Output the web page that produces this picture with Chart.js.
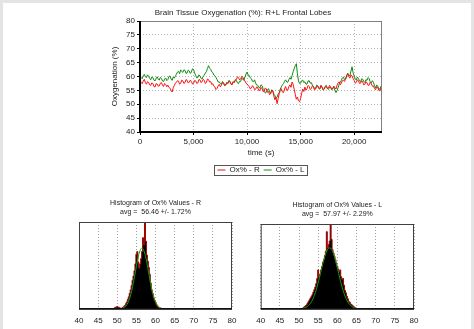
<!DOCTYPE html>
<html>
<head>
<meta charset="utf-8">
<title>Brain Tissue Oxygenation</title>
<script src="https://cdn.jsdelivr.net/npm/chart.js@4.4.0/dist/chart.umd.min.js"></script>
<style>
  html, body { margin: 0; padding: 0; background: #fff; }
  #page {
    position: relative; width: 474px; height: 329px; background: #fff;
    box-shadow: inset 3px 3px 0 #e4e4e4, inset -3px 0 0 #e4e4e4;
  }
  canvas { position: absolute; }
</style>
</head>
<body>
<div id="page">
  <canvas id="trend" width="474" height="184" style="left:0;top:0"></canvas>
  <canvas id="histR" width="190" height="139" style="left:60px;top:190px"></canvas>
  <canvas id="histL" width="190" height="137" style="left:240px;top:192px"></canvas>
</div>
<script>
// Ox% readings, one sample every 100 s
const sampleStep = 100;
const oxR = [
  58.6, 57.9, 57.4, 58.3, 59.0, 57.8, 57.2, 58.1, 57.9, 57.0,
  56.8, 57.7, 57.5, 56.4, 56.2, 57.4, 57.3, 56.5, 56.6, 57.6,
  57.8, 56.9, 56.4, 57.5, 57.1, 56.3, 56.9, 56.1, 55.8, 55.0,
  54.4, 55.9, 56.7, 57.6, 57.9, 58.5, 58.3, 57.2, 57.6, 58.7,
  58.4, 57.5, 57.8, 58.9, 58.6, 57.7, 57.9, 58.7, 58.2, 57.3,
  57.5, 58.6, 58.4, 57.5, 57.7, 58.9, 58.8, 57.8, 58.1, 59.0,
  58.6, 57.5, 57.8, 59.1, 58.9, 58.0, 58.2, 57.1, 57.4, 56.5,
  56.2, 55.3, 55.7, 56.6, 57.2, 56.3, 56.8, 57.9, 57.6, 56.7,
  56.9, 57.8, 57.4, 58.3, 58.1, 57.2, 57.0, 58.2, 57.8, 58.6,
  58.9, 59.9, 59.6, 58.8, 59.2, 60.1, 59.8, 58.9, 58.4, 57.6,
  57.3, 56.7, 56.4, 55.5, 55.8, 56.7, 56.2, 55.3, 55.4, 56.3,
  55.9, 54.9, 55.1, 56.0, 55.7, 54.5, 54.8, 55.9, 55.5, 54.3,
  54.6, 53.4, 53.9, 55.0, 54.8, 53.0, 51.6, 52.4, 50.2, 52.0,
  53.8, 54.9, 55.6, 54.4, 54.2, 55.5, 56.4, 55.0, 55.1, 56.3,
  57.0, 56.1, 58.0, 57.2, 55.4, 53.6, 51.8, 52.6, 51.3, 50.9,
  52.1, 54.0, 55.5, 54.6, 56.2, 55.1, 55.6, 56.8, 56.4, 55.3,
  55.7, 56.7, 56.3, 55.2, 55.5, 56.4, 56.6, 55.7, 55.8, 56.9,
  56.2, 55.1, 55.4, 56.3, 56.5, 55.6, 55.9, 56.8, 56.3, 55.4,
  55.6, 56.5, 56.0, 55.5, 56.8, 57.7, 58.1, 57.0, 57.6, 58.5,
  58.7, 58.2, 59.0, 60.2, 61.0, 60.0, 59.4, 60.6, 60.2, 59.3,
  58.6, 57.6, 57.9, 58.8, 58.4, 57.5, 57.6, 58.5, 58.0, 57.0,
  57.2, 58.1, 57.8, 56.8, 56.9, 57.9, 57.4, 56.5, 56.6, 55.7,
  55.2, 56.3, 56.0, 55.0, 54.8, 55.9, 55.6
];
const oxL = [
  60.5, 59.6, 59.2, 60.3, 60.8, 59.9, 59.6, 60.6, 60.1, 59.3,
  58.8, 59.8, 59.6, 58.7, 58.4, 59.2, 59.9, 59.0, 58.7, 59.7,
  59.3, 58.4, 58.2, 59.1, 59.5, 58.5, 58.9, 60.0, 60.2, 59.1,
  58.6, 59.8, 59.4, 60.1, 60.8, 61.6, 61.9, 61.0, 62.4, 61.8,
  61.5, 62.4, 62.2, 61.1, 61.3, 62.3, 62.0, 61.1, 61.6, 62.8,
  62.5, 61.3, 60.4, 59.5, 59.6, 60.6, 60.2, 59.3, 59.1, 60.0,
  60.5, 61.2, 61.8, 62.9, 63.9, 63.0, 62.6, 61.7, 61.4, 60.5,
  60.2, 59.6, 58.9, 58.0, 58.1, 57.5, 57.2, 58.2, 57.8, 56.8,
  56.9, 57.8, 57.6, 58.6, 58.3, 57.4, 57.1, 58.0, 57.9, 58.9,
  58.6, 57.7, 57.4, 58.3, 58.2, 59.4, 59.1, 58.6, 59.8, 60.9,
  61.6, 60.5, 60.4, 59.5, 59.2, 58.3, 58.1, 58.8, 57.6, 56.9,
  56.8, 56.0, 55.9, 57.0, 56.7, 55.6, 55.2, 54.0, 54.3, 55.3,
  55.6, 54.5, 53.8, 55.2, 54.9, 53.6, 53.1, 52.2, 52.5, 53.7,
  54.2, 55.5, 56.3, 57.0, 57.4, 58.3, 58.8, 58.0, 57.9, 58.9,
  59.6, 59.0, 60.3, 61.7, 62.8, 63.9, 64.6, 61.0, 58.4, 57.5,
  57.6, 58.5, 58.7, 57.8, 58.1, 57.2, 57.3, 58.4, 58.5, 57.6,
  57.8, 56.9, 56.4, 55.4, 55.8, 56.9, 56.6, 55.7, 55.4, 56.4,
  56.2, 55.3, 55.6, 56.5, 56.8, 55.7, 55.3, 56.2, 56.1, 55.2,
  55.7, 56.4, 55.0, 54.2, 54.9, 56.0, 57.2, 57.9, 58.6, 59.5,
  59.8, 58.9, 59.1, 60.4, 61.2, 60.1, 60.4, 61.9, 63.5, 61.4,
  60.2, 59.2, 58.7, 59.8, 59.3, 58.4, 58.1, 59.2, 59.0, 58.2,
  57.8, 58.9, 58.6, 59.6, 59.2, 58.1, 57.6, 58.5, 57.9, 56.7,
  55.8, 56.9, 56.6, 55.5, 55.4, 56.5, 56.3
];
const times = oxR.map((_, i) => i * sampleStep);
const timeTicks = [0, 5000, 10000, 15000, 20000];

// histogram counts (relative), 0.25 % bins
const binWidth = 0.25;
const histStartR = 49.0;
const histCountsR = [
  0, 1, 2, 2, 3, 2, 2, 1, 1, 1, 2, 3,
  4, 6, 8, 11, 14, 18, 22, 27, 33, 38, 44, 52,
  63, 66, 54, 47, 52, 58, 66, 82, 74, 100, 78, 62,
  55, 48, 40, 30, 22, 18, 13, 10, 8, 5, 3, 2, 1, 1, 0
];
const histStartL = 50.75;
const histCountsL = [
  0, 1, 2, 3, 4, 5, 7, 9, 11, 13, 15, 17, 20, 23, 26, 30, 36,
  46, 38, 41, 46, 50, 55, 58, 63, 68, 91, 72, 76, 80, 100, 82, 70,
  66, 62, 58, 54, 50, 47, 44, 46, 38, 35, 36, 28, 22, 19, 15, 12,
  9, 8, 6, 5, 4, 3, 2, 1, 1, 0
];

// fitted normal curves, 0.5 % steps
const fitStep = 0.5;
const fitStartR = 50.0;
const fitR = [0.1, 0.2, 0.5, 1.1, 2.4, 4.9, 9.3, 15.9, 25.2, 36.6, 48.8, 59.9, 67.5, 70.0,
  66.6, 58.3, 46.9, 34.7, 23.5, 14.7, 8.4, 4.4, 2.1, 1.0, 0.4, 0.2, 0.1];
const fitStartL = 51.0;
const fitL = [0.7, 1.3, 2.4, 4.2, 6.8, 10.7, 16.0, 22.8, 31.1, 40.2, 49.7, 58.6, 65.8, 70.5,
  72.0, 70.1, 65.1, 57.6, 48.6, 39.1, 30.0, 21.9, 15.3, 10.2, 6.4, 3.9, 2.2, 1.2, 0.6];

const seriesNames = ['Ox% - R', 'Ox% - L'];
const histTitles = [
  ['Histogram of Ox% Values - R', 'avg =  56.46 +/- 1.72%'],
  ['Histogram of Ox% Values - L', 'avg =  57.97 +/- 2.29%']
];

Chart.defaults.font.family = '"Liberation Sans", Arial, sans-serif';
Chart.defaults.color = '#222';

// plot frame: thin box plus black axis lines
Chart.register({
  id: 'frame',
  defaults: { boxColor: '#808080', axisWidth: 2, leftAxis: true },
  afterDatasetsDraw(chart, args, opts) {
    const { ctx, chartArea: { left, top, right, bottom } } = chart;
    ctx.save();
    ctx.strokeStyle = opts.boxColor;
    ctx.lineWidth = 1;
    ctx.strokeRect(left + 0.5, top + 0.5, right - left - 1, bottom - top - 1);
    ctx.strokeStyle = '#000';
    ctx.lineWidth = opts.axisWidth;
    ctx.beginPath();
    if (opts.leftAxis) {
      ctx.moveTo(left, top);
      ctx.lineTo(left, bottom);
    } else {
      ctx.moveTo(left, bottom);
    }
    ctx.lineTo(right, bottom);
    ctx.stroke();
    ctx.restore();
  }
});

// box around the legend entries
const legendBox = {
  id: 'legendBox',
  afterDraw(chart) {
    const boxes = chart.legend && chart.legend.legendHitBoxes;
    if (!boxes || !boxes.length) return;
    const x0 = Math.min(...boxes.map(b => b.left)) - 3;
    const x1 = Math.max(...boxes.map(b => b.left + b.width)) + 3;
    const y0 = Math.min(...boxes.map(b => b.top)) - 1;
    const y1 = Math.max(...boxes.map(b => b.top + b.height)) + 1;
    const ctx = chart.ctx;
    ctx.save();
    ctx.strokeStyle = '#555';
    ctx.lineWidth = 1;
    ctx.strokeRect(Math.round(x0) + 0.5, Math.round(y0) + 0.5, Math.round(x1 - x0), Math.round(y1 - y0));
    ctx.restore();
  }
};

const legendFill = ['#f08a8a', '#8cc88c'];

new Chart(document.getElementById('trend'), {
  type: 'line',
  data: {
    labels: times,
    datasets: [
      { label: seriesNames[0], data: oxR, borderColor: '#ff1010', backgroundColor: legendFill[0],
        borderWidth: 1, pointRadius: 0, order: 0 },
      { label: seriesNames[1], data: oxL, borderColor: '#108a10', backgroundColor: legendFill[1],
        borderWidth: 1, pointRadius: 0, order: 1 }
    ]
  },
  options: {
    responsive: false,
    animation: false,
    layout: { padding: { left: 104, right: 92, top: 0, bottom: 0 } },
    plugins: {
      title: {
        display: true,
        text: 'Brain Tissue Oxygenation (%): R+L Frontal Lobes',
        font: { size: 8, weight: 'normal' },
        padding: { top: 7.5, bottom: 3.9 }
      },
      legend: {
        position: 'bottom',
        fullSize: false,
        labels: {
          font: { size: 8 },
          boxWidth: 8,
          boxHeight: 2,
          padding: 4,
          generateLabels: chart => Chart.defaults.plugins.legend.labels.generateLabels(chart)
            .map(item => ({ ...item, lineWidth: 0 }))
        }
      },
      tooltip: { enabled: false }
    },
    scales: {
      x: {
        type: 'linear',
        min: 0,
        max: 22600,
        ticks: { font: { size: 8 }, padding: 2, maxRotation: 0 },
        afterBuildTicks: scale => { scale.ticks = timeTicks.map(v => ({ value: v })); },
        grid: { color: '#b4b4b4', tickLength: 3, tickColor: '#000' },
        border: { display: false, dash: [1, 2] },
        title: { display: true, text: 'time (s)', font: { size: 8 }, padding: { top: 1, bottom: 4 } },
        afterFit: scale => { scale.height = 30; }
      },
      y: {
        min: 40,
        max: 80,
        ticks: { stepSize: 5, font: { size: 8 }, padding: 2 },
        grid: { color: '#b4b4b4', tickLength: 3, tickColor: '#000' },
        border: { display: false, dash: [1, 2] },
        title: { display: true, text: 'Oxygenation (%)', font: { size: 8 }, padding: { top: 6, bottom: 0 } },
        afterFit: scale => { scale.width = 36; }
      }
    }
  },
  plugins: [legendBox]
});

// histogram drawn as a stepped, filled outline with the fitted curve on top
function drawHistogram(id, titleLines, start, counts, fitStart, fit, padLeft, padRight) {
  const bins = counts.map((c, i) => ({ x: start + i * binWidth, y: c }));
  const curve = fit.map((v, i) => ({ x: fitStart + i * fitStep, y: v }));
  new Chart(document.getElementById(id), {
    type: 'line',
    data: {
      datasets: [
        { data: curve, borderColor: '#10a010', borderWidth: 1, pointRadius: 0,
          tension: 0.4, order: 0 },
        { data: bins, stepped: 'middle', fill: 'origin', backgroundColor: '#000',
          borderColor: '#a00000', borderWidth: 1, pointRadius: 0, order: 1 }
      ]
    },
    options: {
      responsive: false,
      animation: false,
      layout: { padding: { left: padLeft, right: padRight, top: 0, bottom: 0 } },
      plugins: {
        title: {
          display: true,
          text: titleLines,
          font: { size: 7, weight: 'normal', lineHeight: 9 / 7 },
          padding: { top: 8.8, bottom: 5.2 }
        },
        legend: { display: false },
        tooltip: { enabled: false },
        frame: { boxColor: '#404040', axisWidth: 1.5, leftAxis: false }
      },
      scales: {
        x: {
          type: 'linear',
          min: 40,
          max: 80,
          ticks: { stepSize: 5, font: { size: 8 }, padding: 7, maxRotation: 0 },
          grid: { color: '#a0a0a0', drawTicks: false },
          border: { display: false, dash: [1, 2] },
          afterFit: scale => { scale.height = 20; }
        },
        y: { display: false, min: 0, max: 100 }
      }
    }
  });
}

drawHistogram('histR', histTitles[0], histStartR, histCountsR, fitStartR, fitR, 19, 18);
drawHistogram('histL', histTitles[1], histStartL, histCountsL, fitStartL, fitL, 20.7, 16);
</script>
</body>
</html>
